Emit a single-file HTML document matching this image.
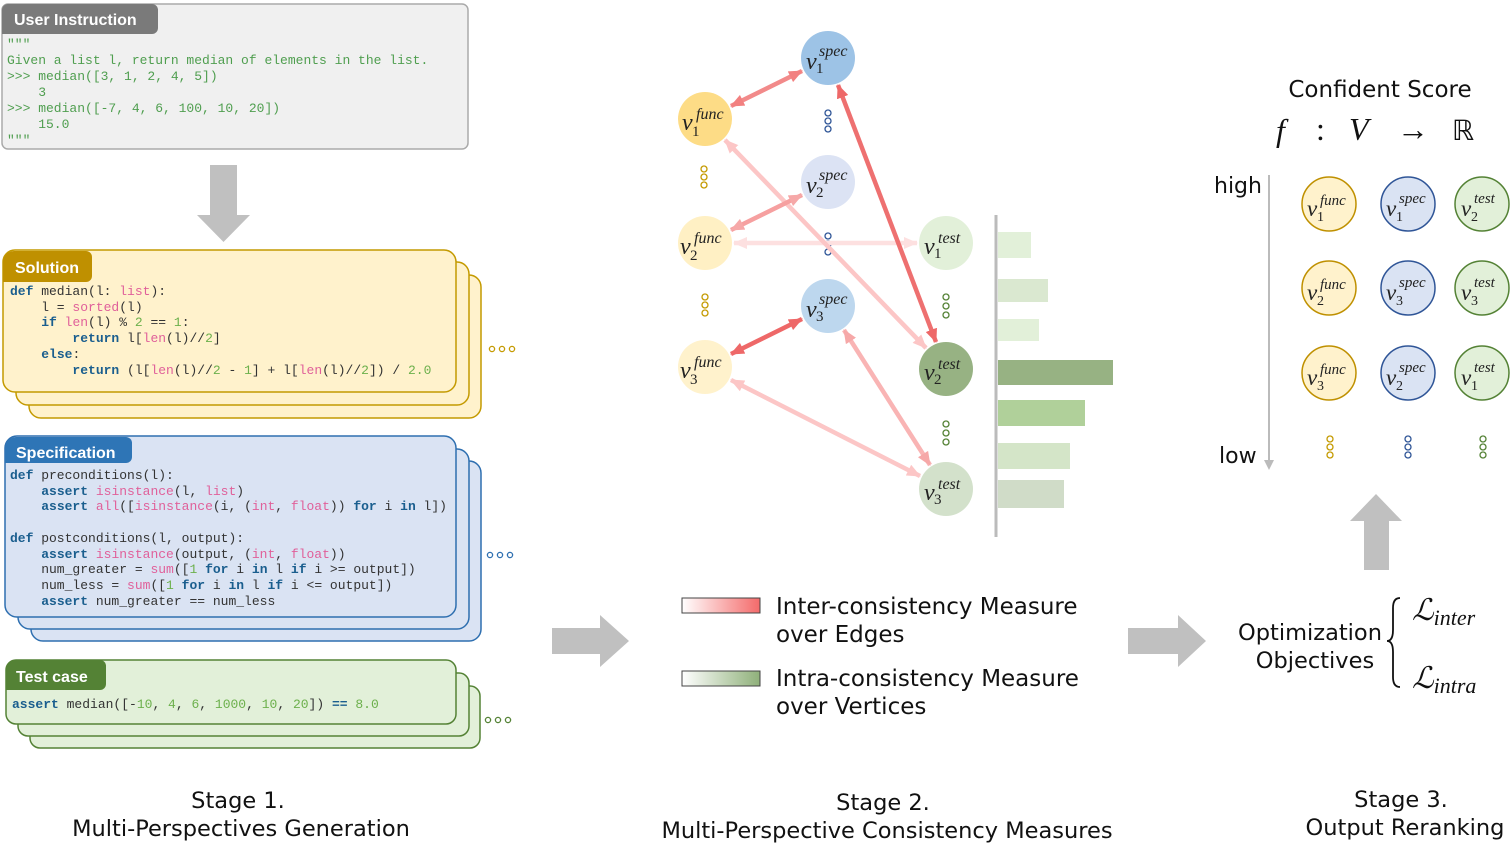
<!DOCTYPE html>
<html><head><meta charset="utf-8">
<style>
html,body{margin:0;padding:0;background:#fff;}
#w{position:relative;width:1512px;height:843px;overflow:hidden;font-family:"Liberation Sans",sans-serif;}
svg{position:absolute;left:0;top:0;}
pre{position:absolute;margin:0;font-family:"Liberation Mono",monospace;font-size:13px;line-height:15.7px;color:#333;}
.k{color:#1a5e8e;font-weight:bold}
.b{color:#e0609a}
.n{color:#6cb04c}
.g{color:#4f9e4f}
</style></head><body><div id="w">
<svg width="1512" height="843" viewBox="0 0 1512 843" font-family="Liberation Sans, sans-serif">
<defs>
<linearGradient id="gr" x1="0" x2="1"><stop offset="0" stop-color="#fff"/><stop offset="1" stop-color="#f46a6a"/></linearGradient>
<linearGradient id="gg" x1="0" x2="1"><stop offset="0" stop-color="#fff"/><stop offset="1" stop-color="#8fb07a"/></linearGradient>
<marker id="m1" viewBox="0 0 14 12" refX="13" refY="6" markerWidth="14" markerHeight="12" markerUnits="userSpaceOnUse" orient="auto-start-reverse"><path d="M0,0 L14,6 L0,12 z" fill="#f28080"/></marker>
<marker id="m2" viewBox="0 0 14 12" refX="13" refY="6" markerWidth="14" markerHeight="12" markerUnits="userSpaceOnUse" orient="auto-start-reverse"><path d="M0,0 L14,6 L0,12 z" fill="#f6a8a8"/></marker>
<marker id="m3" viewBox="0 0 14 12" refX="13" refY="6" markerWidth="14" markerHeight="12" markerUnits="userSpaceOnUse" orient="auto-start-reverse"><path d="M0,0 L14,6 L0,12 z" fill="#fcc6c6"/></marker>
<marker id="m4" viewBox="0 0 14 12" refX="13" refY="6" markerWidth="14" markerHeight="12" markerUnits="userSpaceOnUse" orient="auto-start-reverse"><path d="M0,0 L14,6 L0,12 z" fill="#fde0e0"/></marker>
<marker id="m5" viewBox="0 0 14 12" refX="13" refY="6" markerWidth="14" markerHeight="12" markerUnits="userSpaceOnUse" orient="auto-start-reverse"><path d="M0,0 L14,6 L0,12 z" fill="#ee6868"/></marker>
</defs>

<rect x="2" y="4" width="466" height="145" rx="6" fill="#f0f0f0" stroke="#aaa" stroke-width="1.5"/>
<path d="M2,34 V10 a6,6 0 0 1 6,-6 H152 a6,6 0 0 1 6,6 V28 a6,6 0 0 1 -6,6 z" fill="#7a7a7a"/>
<text x="14" y="25" font-size="16" font-weight="bold" fill="#fff">User Instruction</text>

<path d="M210,165 H237 V215 H250 L223.5,242 L197,215 H210 z" fill="#c0c0c0"/>

<rect x="29" y="275" width="452" height="143" rx="12" fill="#fff2cc" stroke="#c49a00" stroke-width="1.5"/>
<rect x="16" y="262" width="453" height="143" rx="12" fill="#fff2cc" stroke="#c49a00" stroke-width="1.5"/>
<rect x="3" y="250" width="453" height="142" rx="12" fill="#fff2cc" stroke="#c49a00" stroke-width="1.5"/>
<path d="M3,282 V262 a11,11 0 0 1 11,-11 H86 a6,6 0 0 1 6,6 V276 a6,6 0 0 1 -6,6 z" fill="#bf9000"/>
<text x="15" y="273" font-size="16" font-weight="bold" fill="#fff">Solution</text>
<g fill="none" stroke="#c49a00" stroke-width="1.3"><circle cx="492" cy="349" r="2.6"/><circle cx="502" cy="349" r="2.6"/><circle cx="512" cy="349" r="2.6"/></g>

<rect x="31" y="461" width="450" height="180" rx="12" fill="#dae3f3" stroke="#2e6fb0" stroke-width="1.5"/>
<rect x="18" y="449" width="451" height="180" rx="12" fill="#dae3f3" stroke="#2e6fb0" stroke-width="1.5"/>
<rect x="5" y="436" width="451" height="181" rx="12" fill="#dae3f3" stroke="#2e6fb0" stroke-width="1.5"/>
<path d="M5,463 V448 a11,11 0 0 1 11,-11 H126 a6,6 0 0 1 6,6 V457 a6,6 0 0 1 -6,6 z" fill="#2e75b6"/>
<text x="16" y="458" font-size="16" font-weight="bold" fill="#fff">Specification</text>
<g fill="none" stroke="#2e6fb0" stroke-width="1.3"><circle cx="490" cy="555" r="2.6"/><circle cx="500" cy="555" r="2.6"/><circle cx="510" cy="555" r="2.6"/></g>

<rect x="30" y="686" width="450" height="62" rx="10" fill="#e2f0d9" stroke="#548235" stroke-width="1.5"/>
<rect x="18" y="673" width="451" height="63" rx="10" fill="#e2f0d9" stroke="#548235" stroke-width="1.5"/>
<rect x="6" y="660" width="450" height="64" rx="10" fill="#e2f0d9" stroke="#548235" stroke-width="1.5"/>
<path d="M6,690 V670 a10,10 0 0 1 10,-10 H100 a6,6 0 0 1 6,6 V684 a6,6 0 0 1 -6,6 z" fill="#548235"/>
<text x="16" y="682" font-size="16" font-weight="bold" fill="#fff">Test case</text>
<g fill="none" stroke="#548235" stroke-width="1.3"><circle cx="488" cy="720" r="2.6"/><circle cx="498" cy="720" r="2.6"/><circle cx="508" cy="720" r="2.6"/></g>

<path d="M552,628 H600 V615 L629,641 L600,667 V654 H552 z" fill="#c0c0c0"/>
<path d="M1128,628 H1178 V615 L1206,641 L1178,667 V654 H1128 z" fill="#c0c0c0"/>
<path d="M1364,570 V521 H1350 L1376,494 L1402,521 H1389 V570 z" fill="#c0c0c0"/>

<circle cx="705" cy="119" r="27" fill="#fddc86"/>
<circle cx="705" cy="243" r="27" fill="#fff0c4"/>
<circle cx="705" cy="367" r="27" fill="#fff2cc"/>
<circle cx="828" cy="58" r="27" fill="#9dc3e6"/>
<circle cx="828" cy="182" r="27" fill="#dce3f4"/>
<circle cx="828" cy="306" r="27" fill="#bdd7ee"/>
<circle cx="946" cy="243" r="27" fill="#e2f0d9"/>
<circle cx="946" cy="369" r="27" fill="#97b283"/>
<circle cx="946" cy="489" r="27" fill="#d3e1cb"/>

<g fill="none" stroke-width="1.3">
<g stroke="#2f5597"><circle cx="828" cy="113" r="3"/><circle cx="828" cy="121" r="3"/><circle cx="828" cy="129" r="3"/>
<circle cx="828" cy="236" r="3"/><circle cx="828" cy="244" r="3"/><circle cx="828" cy="252" r="3"/></g>
<g stroke="#c49a00"><circle cx="704" cy="169" r="3"/><circle cx="704" cy="177" r="3"/><circle cx="704" cy="185" r="3"/>
<circle cx="705" cy="297" r="3"/><circle cx="705" cy="305" r="3"/><circle cx="705" cy="313" r="3"/></g>
<g stroke="#548235"><circle cx="946" cy="297" r="3"/><circle cx="946" cy="306" r="3"/><circle cx="946" cy="315" r="3"/>
<circle cx="946" cy="424" r="3"/><circle cx="946" cy="433" r="3"/><circle cx="946" cy="442" r="3"/></g>
</g>

<g stroke-width="4.5" fill="none">
<line x1="734" y1="243" x2="917" y2="243" stroke="#fde0e0" marker-start="url(#m4)" marker-end="url(#m4)"/>
<line x1="725" y1="140" x2="926" y2="348" stroke="#fcc6c6" marker-start="url(#m3)" marker-end="url(#m3)"/>
<line x1="731" y1="380" x2="920" y2="476" stroke="#fcc6c6" marker-start="url(#m3)" marker-end="url(#m3)"/>
<line x1="844" y1="330" x2="930" y2="465" stroke="#f9b4b4" marker-start="url(#m2)" marker-end="url(#m2)"/>
<line x1="731" y1="230" x2="802" y2="195" stroke="#f6a0a0" marker-start="url(#m2)" marker-end="url(#m2)"/>
<line x1="731" y1="106" x2="802" y2="71" stroke="#f28a8a" marker-start="url(#m1)" marker-end="url(#m1)"/>
<line x1="838" y1="85" x2="936" y2="342" stroke="#ee7070" marker-start="url(#m5)" marker-end="url(#m5)"/>
<line x1="731" y1="354" x2="802" y2="319" stroke="#ee6868" marker-start="url(#m5)" marker-end="url(#m5)"/>
</g>

<!-- node labels: v, sup, sub as separate texts -->
<g font-family="Liberation Serif, serif" font-style="italic" fill="#222">
<g font-size="24">
<text x="682" y="130">v</text><text x="680" y="254">v</text><text x="680" y="378">v</text>
<text x="806" y="69">v</text><text x="806" y="193">v</text><text x="806" y="317">v</text>
<text x="924" y="254">v</text><text x="924" y="380">v</text><text x="924" y="500">v</text>
</g>
<g font-size="16">
<text x="696" y="119">func</text><text x="694" y="243">func</text><text x="694" y="367">func</text>
<text x="819" y="56">spec</text><text x="819" y="180">spec</text><text x="819" y="304">spec</text>
<text x="938" y="243">test</text><text x="938" y="369">test</text><text x="938" y="489">test</text>
</g>
<g font-size="15" font-style="normal">
<text x="692" y="136">1</text><text x="690" y="260">2</text><text x="690" y="384">3</text>
<text x="816" y="73">1</text><text x="816" y="197">2</text><text x="816" y="321">3</text>
<text x="934" y="258">1</text><text x="934" y="384">2</text><text x="934" y="504">3</text>
</g>
</g>

<line x1="996" y1="215" x2="996" y2="537" stroke="#bbb" stroke-width="3"/>
<rect x="998" y="232" width="33" height="26" fill="#e2f0d9"/>
<rect x="998" y="279" width="50" height="23" fill="#dae8d0"/>
<rect x="998" y="319" width="41" height="22" fill="#e2f0d9"/>
<rect x="998" y="360" width="115" height="25" fill="#97b283"/>
<rect x="998" y="400" width="87" height="26" fill="#b0d09a"/>
<rect x="998" y="443" width="72" height="26" fill="#d4e5c8"/>
<rect x="998" y="480" width="66" height="28" fill="#d0dcc8"/>

<rect x="682" y="598" width="78" height="15" fill="url(#gr)" stroke="#444" stroke-width="1"/>
<rect x="682" y="671" width="78" height="15" fill="url(#gg)" stroke="#444" stroke-width="1"/>
<g font-family="DejaVu Sans, sans-serif" font-size="23" fill="#111">
<text x="776" y="614">Inter-consistency Measure</text>
<text x="776" y="642">over Edges</text>
<text x="776" y="686">Intra-consistency Measure</text>
<text x="776" y="714">over Vertices</text>
</g>

<g font-family="DejaVu Sans, sans-serif" fill="#111">
<text x="1380" y="97" font-size="23" text-anchor="middle">Confident Score</text>
<text x="1214" y="193" font-size="22">high</text>
<text x="1219" y="463" font-size="22">low</text>
<text x="1310" y="640" font-size="22.5" text-anchor="middle">Optimization</text>
<text x="1315" y="668" font-size="22.5" text-anchor="middle">Objectives</text>
</g>
<g font-family="Liberation Serif, serif" font-size="32" fill="#111">
<text x="1276" y="141" font-style="italic">f</text>
<text x="1316" y="140">:</text>
<text x="1349" y="140" font-style="italic">V</text>
<text x="1397" y="140">→</text>
<text x="1452" y="140" font-family="DejaVu Sans, sans-serif" font-size="28">ℝ</text>
</g>
<path d="M1400,598 q-7,0 -7,10 v22 q0,11 -6,11 q6,0 6,11 v25 q0,10 7,10" fill="none" stroke="#111" stroke-width="1.8"/>
<g font-family="Liberation Serif, serif" font-style="italic" fill="#111">
<text x="1412" y="620" font-size="30">ℒ<tspan font-size="22" dy="5">inter</tspan></text>
<text x="1412" y="688" font-size="30">ℒ<tspan font-size="22" dy="5">intra</tspan></text>
</g>
<line x1="1269" y1="175" x2="1269" y2="462" stroke="#bbb" stroke-width="2"/>
<path d="M1264,460 L1274,460 L1269,470 z" fill="#bbb"/>

<g stroke-width="1.5">
<circle cx="1329" cy="204" r="27" fill="#fff2cc" stroke="#bf9000"/>
<circle cx="1329" cy="288" r="27" fill="#fff2cc" stroke="#bf9000"/>
<circle cx="1329" cy="373" r="27" fill="#fff2cc" stroke="#bf9000"/>
<circle cx="1408" cy="204" r="27" fill="#dae3f3" stroke="#2f5597"/>
<circle cx="1408" cy="288" r="27" fill="#dae3f3" stroke="#2f5597"/>
<circle cx="1408" cy="373" r="27" fill="#dae3f3" stroke="#2f5597"/>
<circle cx="1482" cy="204" r="27" fill="#e2f0d9" stroke="#548235"/>
<circle cx="1482" cy="288" r="27" fill="#e2f0d9" stroke="#548235"/>
<circle cx="1482" cy="373" r="27" fill="#e2f0d9" stroke="#548235"/>
</g>
<g fill="none" stroke-width="1.3">
<g stroke="#c49a00"><circle cx="1330" cy="439" r="3"/><circle cx="1330" cy="447" r="3"/><circle cx="1330" cy="455" r="3"/></g>
<g stroke="#2f5597"><circle cx="1408" cy="439" r="3"/><circle cx="1408" cy="447" r="3"/><circle cx="1408" cy="455" r="3"/></g>
<g stroke="#548235"><circle cx="1483" cy="439" r="3"/><circle cx="1483" cy="447" r="3"/><circle cx="1483" cy="455" r="3"/></g>
</g>
<g font-family="Liberation Serif, serif" font-style="italic" fill="#222">
<g font-size="23">
<text x="1307" y="216">v</text><text x="1307" y="300">v</text><text x="1307" y="385">v</text>
<text x="1386" y="216">v</text><text x="1386" y="300">v</text><text x="1386" y="385">v</text>
<text x="1461" y="216">v</text><text x="1461" y="300">v</text><text x="1461" y="385">v</text>
</g>
<g font-size="15">
<text x="1320" y="205">func</text><text x="1320" y="289">func</text><text x="1320" y="374">func</text>
<text x="1399" y="203">spec</text><text x="1399" y="287">spec</text><text x="1399" y="372">spec</text>
<text x="1474" y="203">test</text><text x="1474" y="287">test</text><text x="1474" y="372">test</text>
</g>
<g font-size="14" font-style="normal">
<text x="1317" y="221">1</text><text x="1317" y="305">2</text><text x="1317" y="390">3</text>
<text x="1396" y="221">1</text><text x="1396" y="305">3</text><text x="1396" y="390">2</text>
<text x="1471" y="221">2</text><text x="1471" y="305">3</text><text x="1471" y="390">1</text>
</g>
</g>

<g font-family="DejaVu Sans, sans-serif" font-size="22.5" fill="#111" text-anchor="middle">
<text x="238" y="808">Stage 1.</text>
<text x="241" y="836">Multi-Perspectives Generation</text>
<text x="883" y="810">Stage 2.</text>
<text x="887" y="838">Multi-Perspective Consistency Measures</text>
<text x="1401" y="807">Stage 3.</text>
<text x="1405" y="835">Output Reranking</text>
</g>
</svg>

<pre style="left:7px;top:37px;line-height:16px;" class="g">"""
Given a list l, return median of elements in the list.
&gt;&gt;&gt; median([3, 1, 2, 4, 5])
    3
&gt;&gt;&gt; median([-7, 4, 6, 100, 10, 20])
    15.0
"""</pre>

<pre style="left:10px;top:284px;"><span class="k">def</span> median(l: <span class="b">list</span>):
    l = <span class="b">sorted</span>(l)
    <span class="k">if</span> <span class="b">len</span>(l) % <span class="n">2</span> == <span class="n">1</span>:
        <span class="k">return</span> l[<span class="b">len</span>(l)//<span class="n">2</span>]
    <span class="k">else</span>:
        <span class="k">return</span> (l[<span class="b">len</span>(l)//<span class="n">2</span> - <span class="n">1</span>] + l[<span class="b">len</span>(l)//<span class="n">2</span>]) / <span class="n">2.0</span></pre>

<pre style="left:10px;top:468px;"><span class="k">def</span> preconditions(l):
    <span class="k">assert</span> <span class="b">isinstance</span>(l, <span class="b">list</span>)
    <span class="k">assert</span> <span class="b">all</span>([<span class="b">isinstance</span>(i, (<span class="b">int</span>, <span class="b">float</span>)) <span class="k">for</span> i <span class="k">in</span> l])

<span class="k">def</span> postconditions(l, output):
    <span class="k">assert</span> <span class="b">isinstance</span>(output, (<span class="b">int</span>, <span class="b">float</span>))
    num_greater = <span class="b">sum</span>([<span class="n">1</span> <span class="k">for</span> i <span class="k">in</span> l <span class="k">if</span> i &gt;= output])
    num_less = <span class="b">sum</span>([<span class="n">1</span> <span class="k">for</span> i <span class="k">in</span> l <span class="k">if</span> i &lt;= output])
    <span class="k">assert</span> num_greater == num_less</pre>

<pre style="left:12px;top:697px;"><span class="k">assert</span> median([-<span class="n">10</span>, <span class="n">4</span>, <span class="n">6</span>, <span class="n">1000</span>, <span class="n">10</span>, <span class="n">20</span>]) <span class="k">==</span> <span class="n">8.0</span></pre>
</div></body></html>
